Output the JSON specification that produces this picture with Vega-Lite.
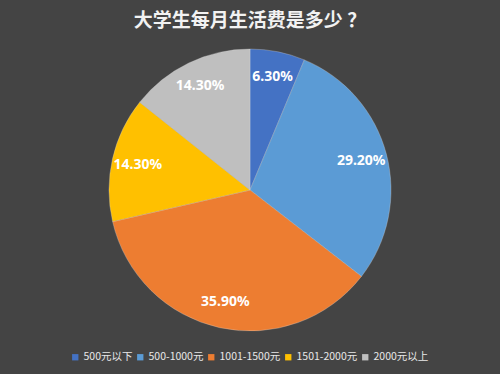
{
  "$schema": "https://vega.github.io/schema/vega-lite/v6.json",
  "width": 500,
  "height": 380,
  "autosize": {"type": "none"},
  "padding": 0,
  "background": "#444444",
  "title": {
    "text": "大学生每月生活费是多少 ？",
    "color": "#f2f2f2",
    "fontSize": 19,
    "font": "Noto Sans CJK SC",
    "fontWeight": "bold",
    "anchor": "middle",
    "orient": "top",
    "baseline": "top",
    "offset": -31
  },
  "data": {
    "values": [
      {"cat": "500元以下", "pct": 6.3, "label": "6.30%", "idx": 1},
      {"cat": "500-1000元", "pct": 29.2, "label": "29.20%", "idx": 2},
      {"cat": "1001-1500元", "pct": 35.9, "label": "35.90%", "idx": 3},
      {"cat": "1501-2000元", "pct": 14.3, "label": "14.30%", "idx": 4},
      {"cat": "2000元以上", "pct": 14.3, "label": "14.30%", "idx": 5}
    ]
  },
  "encoding": {
    "theta": {"field": "pct", "type": "quantitative", "stack": true},
    "order": {"field": "idx", "type": "quantitative"},
    "color": {
      "field": "cat",
      "type": "nominal",
      "sort": null,
      "scale": {
        "domain": ["500元以下", "500-1000元", "1001-1500元", "1501-2000元", "2000元以上"],
        "range": ["#4472C4", "#5B9BD5", "#ED7D31", "#FFC000", "#BFBFBF"]
      },
      "legend": {
        "orient": "none",
        "legendX": 70,
        "legendY": 352,
        "direction": "horizontal",
        "gridAlign": "none",
        "title": null,
        "symbolType": "square",
        "symbolSize": 40,
        "symbolStrokeWidth": 0,
        "labelColor": "#e8e8e8",
        "labelFontSize": 10.5,
        "labelFont": "Noto Sans CJK SC",
        "columnPadding": 2,
        "symbolOffset": 0,
        "labelOffset": 3
      }
    }
  },
  "layer": [
    {
      "mark": {"type": "arc", "outerRadius": 141, "stroke": "#dddddd", "strokeWidth": 0.5, "strokeOpacity": 0.6}
    },
    {
      "mark": {"type": "text", "radius": 115, "font": "Noto Sans", "fontWeight": "bold", "fontSize": 14, "fill": "#ffffff"},
      "encoding": {
        "text": {"field": "label", "type": "nominal"},
        "color": {"value": "#ffffff"}
      }
    }
  ]
}
